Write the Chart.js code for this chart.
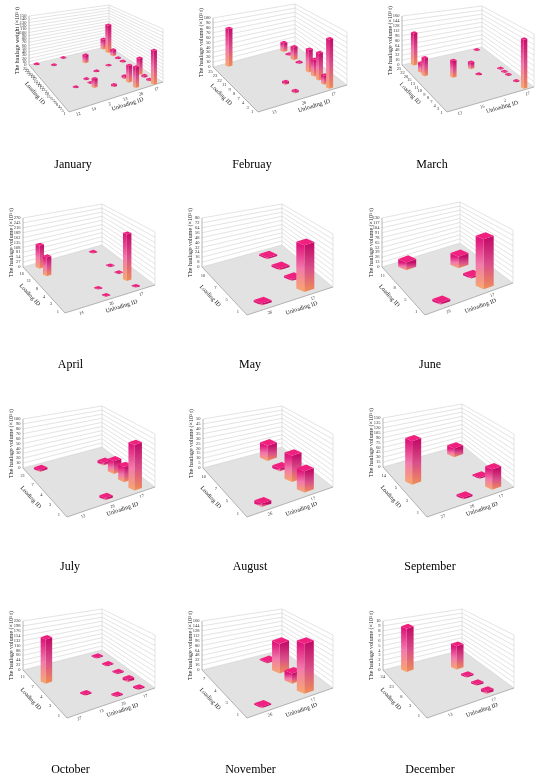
<!DOCTYPE html>
<html>
<head>
<meta charset="utf-8">
<script src="https://cdn.jsdelivr.net/npm/chart.js@4.4.1/dist/chart.umd.min.js"></script>
<style>
  body { margin: 0; background: #fff; width: 550px; height: 778px; position: relative; overflow: hidden; }
  canvas { position: absolute; }
</style>
</head>
<body>
<script>
// data
const months = ['January', 'Februay', 'March', 'April', 'May', 'June',
  'July', 'August', 'September', 'October', 'November', 'December'];

const unloadingIds = [
  ['12', '14', '2', '13', '26', '17'],
  ['13', '26', '17'],
  ['13', '15', '2', '17'],
  ['14', '26', '17'],
  ['26', '17'],
  ['26', '17'],
  ['13', '26', '17'],
  ['26', '17'],
  ['27', '26', '17'],
  ['27', '13', '26', '17'],
  ['26', '17'],
  ['13', '17']
];

const loadingIds = [
  ['1', '5', '7', '4', '8', '9', '3', '6', '11', '10', '2', '12', '13', '16', '14', '15', '19', '18', '20', '21', '22', '25'],
  ['1', '3', '4', '7', '8', '9', '11', '22', '23', '25'],
  ['1', '3', '4', '7', '8', '9', '10', '11', '13', '15', '20', '22', '25'],
  ['1', '3', '4', '8', '11', '16'],
  ['1', '5', '7', '10'],
  ['1', '5', '8', '11'],
  ['1', '3', '4', '7', '21'],
  ['1', '5', '7', '10'],
  ['1', '3', '5', '14'],
  ['1', '3', '4', '7', '11'],
  ['1', '3', '4', '7'],
  ['1', '3', '8', '23', '24']
];

// [loading index, unloading index, volume]
const haulage = [
  [[21,0,3],[19,1,3],[21,2,3],[17,3,25],[19,5,95],[21,5,35],[17,5,20],[15,5,4],[13,5,4],[13,4,3],[12,3,3],
   [10,2,3],[8,2,3],[6,2,25],[8,1,3],[4,3,6],[4,4,48],[6,5,48],[1,4,57],[6,4,8],[4,5,6],[2,5,4],[0,5,95]],
  [[9,0,78],[9,2,20],[8,2,3],[7,2,28],[6,2,3],[4,2,46],[3,2,33],[2,2,53],[1,2,17],[0,2,92],[3,1,5],[1,1,4]],
  [[12,0,106],[10,0,29],[9,0,56],[7,1,53],[8,2,21],[12,3,4],[6,2,4],[6,3,4],[5,3,4],[4,3,4],[2,3,4],[0,3,148]],
  [[5,0,127],[4,0,100],[5,2,4],[3,2,4],[2,2,4],[1,2,245],[1,1,4],[0,1,4],[0,2,4]],
  [[0,1,70],[0,0,3],[3,1,3],[2,1,3],[1,1,3]],
  [[3,0,21],[2,1,32],[1,1,5],[0,1,122],[0,0,5]],
  [[4,0,4],[3,2,6],[2,2,26],[1,2,30],[0,2,86],[0,1,4]],
  [[3,1,17],[2,1,3],[1,1,26],[0,1,20],[0,0,3]],
  [[2,0,126],[3,2,30],[1,2,4],[0,2,58],[0,1,5]],
  [[3,0,190],[4,3,5],[3,3,5],[2,3,5],[1,3,12],[0,3,6],[1,1,5],[0,2,5]],
  [[3,1,4],[2,1,100],[1,1,32],[0,1,150],[0,0,4]],
  [[4,0,9],[3,1,5],[2,1,0.3],[1,1,0.3],[0,1,0.5]]
];

const zMax = [150, 100, 160, 270, 80, 130, 100, 50, 150, 220, 160, 10];
const zStep = [10, 10, 16, 27, 8, 13, 10, 5, 15, 22, 16, 1];
const zTitles = ['The haulage weight (\u00d710\u00b3 t)'].concat(Array(11).fill('The haulage volume (\u00d710\u00b3 t)'));

// layout of each panel: floor corners (front, right, left, back), bar face widths, month label spot
const colX = [0, 183, 366];
const rowY = [0, 200, 400, 600];
const geoms = [
  {L: [29, 65], F: [69, 112], R: [163, 82], B: [109, 46], wl: 2.6, wu: 3.4},
  {L: [30, 67], F: [75, 112], R: [164, 85], B: [112, 45], wl: 3, wu: 4},
  {L: [36, 65], F: [81, 112], R: [168, 87], B: [116, 47], wl: 2.8, wu: 3.6, uPad: 0.15},
  {L: [23, 67], F: [65, 113], R: [155, 85], B: [102, 45], wl: 3.8, wu: 4.6},
  {L: [19, 67], F: [64, 115], R: [150, 87], B: [99, 45], wl: 8, wu: 10},
  {L: [16, 67], F: [59, 115], R: [147, 83], B: [94, 43], wl: 8, wu: 10},
  {L: [23, 68], F: [67, 117], R: [155, 87], B: [102, 47], wl: 6, wu: 7.5},
  {L: [20, 68], F: [64, 117], R: [150, 87], B: [99, 47], wl: 7.5, wu: 9.5},
  {L: [17, 67], F: [61, 117], R: [148, 87], B: [96, 45], wl: 7, wu: 9},
  {L: [23, 70], F: [67, 118], R: [155, 88], B: [102, 50], wl: 5, wu: 6.5},
  {L: [19, 70], F: [64, 118], R: [150, 88], B: [99, 50], wl: 7.5, wu: 9.5},
  {L: [17, 70], F: [61, 118], R: [148, 88], B: [96, 50], wl: 5.5, wu: 7}
];
const labelX = [73, 69, 66, 70.5, 67, 64, 70, 67, 64, 70.5, 67.5, 64];
const labelY = [168, 168, 168, 168, 168, 168, 170, 170, 170, 173, 173, 173];
const H = {F: 60, R: 53, L: 49, B: 41};

const box3d = {
  id: 'box3d',
  afterDraw(chart, args, opts) {
    const ctx = chart.ctx;
    const g = opts.geom;
    const m = opts.month;
    const xs = chart.scales.x, ys = chart.scales.y, zs = chart.scales.z;
    const fu = v => (xs.getPixelForValue(v) - xs.left) / (xs.right - xs.left);
    const fl = v => (ys.bottom - ys.getPixelForValue(v)) / (ys.bottom - ys.top);
    const fz = v => (zs.bottom - zs.getPixelForValue(v)) / (zs.bottom - zs.top);

    function hAt(u, l) {
      return H.F * (1 - u) * (1 - l) + H.R * u * (1 - l) + H.L * (1 - u) * l + H.B * u * l;
    }
    function pt(u, l, z) {
      const a = (1 - u) * (1 - l), b = u * (1 - l), c = (1 - u) * l, d = u * l;
      const x = g.F[0] * a + g.R[0] * b + g.L[0] * c + g.B[0] * d;
      const y = g.F[1] * a + g.R[1] * b + g.L[1] * c + g.B[1] * d;
      return [x, y - z * hAt(u, l)];
    }
    function poly(pts, fill) {
      ctx.beginPath();
      ctx.moveTo(pts[0][0], pts[0][1]);
      for (let i = 1; i < pts.length; i++) ctx.lineTo(pts[i][0], pts[i][1]);
      ctx.closePath();
      ctx.fillStyle = fill;
      ctx.fill();
    }
    function line(pts, color, w) {
      ctx.beginPath();
      ctx.moveTo(pts[0][0], pts[0][1]);
      for (let i = 1; i < pts.length; i++) ctx.lineTo(pts[i][0], pts[i][1]);
      ctx.strokeStyle = color;
      ctx.lineWidth = w;
      ctx.stroke();
    }

    ctx.save();
    // floor
    poly([pt(0, 0, 0), pt(1, 0, 0), pt(1, 1, 0), pt(0, 1, 0)], '#e2e2e2');

    // back walls with z grid
    ctx.font = '4.5px "Liberation Serif"';
    ctx.textAlign = 'right';
    ctx.textBaseline = 'middle';
    for (let t = 0; t <= zMax[m] + 1e-9; t += zStep[m]) {
      const z = fz(t);
      line([pt(0, 1, z), pt(1, 1, z), pt(1, 0, z)], '#d0d0d0', 0.6);
      const p = pt(0, 1, z);
      ctx.fillStyle = '#333';
      ctx.fillText(String(Math.round(t * 10) / 10), p[0] - 2.5, p[1]);
    }
    line([pt(1, 1, 0), pt(1, 1, 1)], '#d0d0d0', 0.6);
    line([pt(1, 0, 0), pt(1, 0, 1)], '#d0d0d0', 0.6);
    line([pt(0, 1, 0), pt(0, 1, 1)], '#888', 0.6);
    line([pt(0, 1, 0), pt(0, 0, 0), pt(1, 0, 0)], '#888', 0.6);

    // z title
    const zl = pt(0, 1, 0.5);
    ctx.save();
    ctx.translate(Math.max(zl[0] - 12, 5), zl[1]);
    ctx.rotate(-Math.PI / 2);
    ctx.font = '6px "Liberation Serif"';
    ctx.textAlign = 'center';
    ctx.fillStyle = '#222';
    ctx.fillText(zTitles[m], 0, 0);
    ctx.restore();

    // loading ticks
    ctx.font = '4.5px "Liberation Serif"';
    ctx.fillStyle = '#333';
    ctx.textAlign = 'right';
    ctx.textBaseline = 'middle';
    loadingIds[m].forEach((lab, i) => {
      const p = pt(0, fl(i), 0);
      ctx.fillText(lab, p[0] - 2.5, p[1] + 2.5);
    });
    // unloading ticks
    const angU = Math.atan2(g.R[1] - g.F[1], g.R[0] - g.F[0]);
    unloadingIds[m].forEach((lab, i) => {
      const p = pt(fu(i), 0, 0);
      ctx.save();
      ctx.translate(p[0] + 1.5, p[1] + 4.5);
      ctx.rotate(angU);
      ctx.textAlign = 'center';
      ctx.fillText(lab, 0, 0);
      ctx.restore();
    });

    // axis titles
    ctx.font = '6px "Liberation Serif"';
    ctx.fillStyle = '#222';
    ctx.textBaseline = 'middle';
    const angL = Math.atan2(g.F[1] - g.L[1], g.F[0] - g.L[0]);
    const ml = [(g.L[0] + g.F[0]) / 2, (g.L[1] + g.F[1]) / 2];
    ctx.save();
    ctx.translate(ml[0] - 0.73 * 14 - Math.cos(angL) * 6, ml[1] + 0.67 * 14 - Math.sin(angL) * 6);
    ctx.rotate(angL);
    ctx.textAlign = 'center';
    ctx.fillText('Loading ID', 0, 0);
    ctx.restore();
    const mu = [(g.F[0] + g.R[0]) / 2, (g.F[1] + g.R[1]) / 2];
    ctx.save();
    ctx.translate(mu[0] + 3 + Math.cos(angU) * 9, mu[1] + 10 + Math.sin(angU) * 9);
    ctx.rotate(angU);
    ctx.textAlign = 'center';
    ctx.fillText('Unloading ID', 0, 0);
    ctx.restore();

    // bars, far ones first
    const su = (g.R[1] - g.F[1]) / (g.R[0] - g.F[0]);
    const au = [g.wu, g.wu * su];
    const al = [-g.wl, -0.45 * g.wl];
    const bars = chart.data.datasets[0].data.map(d => ({u: fu(d.x), l: fl(d.y), v: fz(d.v)}));
    bars.sort((a, b) => (b.u + b.l) - (a.u + a.l));
    for (const b of bars) {
      const c = pt(b.u, b.l, 0);
      const h = Math.max(b.v * hAt(b.u, b.l), 0.8);
      const p0 = [c[0] - (au[0] + al[0]) / 2, c[1] - (au[1] + al[1]) / 2];
      const pu = [p0[0] + au[0], p0[1] + au[1]];
      const pl = [p0[0] + al[0], p0[1] + al[1]];
      const pul = [pu[0] + al[0], pu[1] + al[1]];
      const up = p => [p[0], p[1] - h];
      const gl = ctx.createLinearGradient(0, p0[1], 0, p0[1] - h);
      gl.addColorStop(0, '#f7a86c');
      gl.addColorStop(0.5, '#f27aab');
      gl.addColorStop(1, '#e0177c');
      const gr = ctx.createLinearGradient(0, p0[1], 0, p0[1] - h);
      gr.addColorStop(0, '#ef8e56');
      gr.addColorStop(0.5, '#da4f8a');
      gr.addColorStop(1, '#c40f6a');
      poly([p0, pl, up(pl), up(p0)], gl);
      poly([p0, pu, up(pu), up(p0)], gr);
      poly([up(p0), up(pu), up(pul), up(pl)], '#f0207f');
    }

    // month name
    ctx.font = '12px "Liberation Serif"';
    ctx.fillStyle = '#000';
    ctx.textAlign = 'center';
    ctx.textBaseline = 'alphabetic';
    ctx.fillText(months[m], opts.labelX, opts.labelY);
    ctx.restore();
  }
};

months.forEach((name, m) => {
  const col = m % 3, row = Math.floor(m / 3);
  const canvas = document.createElement('canvas');
  canvas.width = 184;
  canvas.height = row === 3 ? 178 : 200;
  canvas.style.left = colX[col] + 'px';
  canvas.style.top = rowY[row] + 'px';
  document.body.appendChild(canvas);

  const nU = unloadingIds[m].length, nL = loadingIds[m].length;
  new Chart(canvas, {
    type: 'scatter',
    data: {
      datasets: [{
        label: name,
        data: haulage[m].map(c => ({x: c[1], y: c[0], v: c[2]})),
        pointRadius: 0
      }]
    },
    options: {
      responsive: false,
      animation: false,
      events: [],
      layout: {padding: 0},
      scales: {
        x: {type: 'linear', min: -0.5, max: nU - 0.5 - (geoms[m].uPad || 0), display: false},
        y: {type: 'linear', min: -0.5, max: nL - 0.5, display: false},
        z: {type: 'linear', axis: 'y', position: 'right', min: 0, max: zMax[m], ticks: {stepSize: zStep[m]}, display: false}
      },
      plugins: {
        legend: {display: false},
        tooltip: {enabled: false},
        box3d: {geom: geoms[m], month: m, labelX: labelX[m], labelY: labelY[m]}
      }
    },
    plugins: [box3d]
  });
});
</script>
</body>
</html>
